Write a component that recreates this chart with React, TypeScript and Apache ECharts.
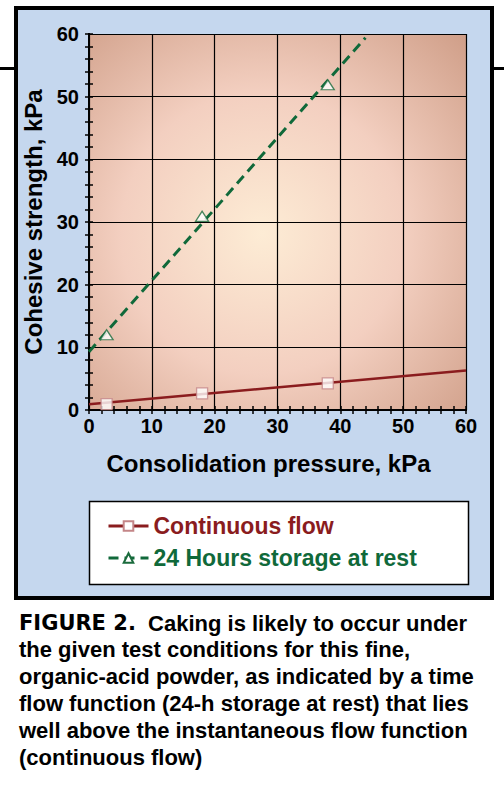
import React, { useEffect, useRef } from 'react'
import * as echarts from 'echarts'

const seriesNames = ['Continuous flow', '24 Hours storage at rest']
const seriesColors = ['#8a1c1e', '#10693a']
const markerBorders = ['#c48688', '#1a6b3c']

// measured test points
const pointX = [2.8, 18.0, 38.0]
const continuousPoints = [0.95, 2.65, 4.25]
const storagePoints = [12.0, 30.9, 51.9]

// fitted flow functions
const continuousFitX = [0, 60]
const continuousFit = [0.9, 6.3]
const storageFitX = [0, 44]
const storageFit = [9.3, 59.4]

const xAxisName = 'Consolidation pressure, kPa'
const yAxisName = 'Cohesive strength, kPa'
const axisMin = 0
const axisMax = 60
const axisStep = 10
const minorStep = 2

const captionHead = 'FIGURE 2.'
const captionLines = [
  'Caking is likely to occur under',
  'the given test conditions for this fine,',
  'organic-acid powder, as indicated by a time',
  'flow function (24-h storage at rest) that lies',
  'well above the instantaneous flow function',
  '(continuous flow)'
]

const font = '"Liberation Sans", Arial, sans-serif'

const zip = (xs: number[], ys: number[]) => xs.map((x, i) => [x, ys[i]])

const App: React.FC = () => {
  const chartRef = useRef<HTMLDivElement>(null)

  useEffect(() => {
    if (!chartRef.current) return
    const chart = echarts.init(chartRef.current, undefined, { renderer: 'svg' })

    // labelled axis with grid lines
    const mainAxis = (position: string, isX: boolean) => ({
      type: 'value',
      position,
      min: axisMin,
      max: axisMax,
      interval: axisStep,
      name: isX ? xAxisName : yAxisName,
      nameLocation: 'middle',
      nameGap: isX ? 41 : 42,
      nameTextStyle: {
        fontSize: 24,
        fontWeight: 'bold',
        fontFamily: font,
        color: '#000',
        padding: isX ? [0, 18, 0, 0] : [0, 0, 0, 0]
      },
      axisLine: { show: true, lineStyle: { color: '#000', width: 2 } },
      axisTick: { show: false },
      axisLabel: {
        fontSize: 20,
        fontWeight: 'bold',
        fontFamily: font,
        color: '#000',
        margin: isX ? 6 : 10
      },
      splitLine: { show: true, lineStyle: { color: '#000', width: 1.2 } }
    })

    // frame side carrying the small inward ticks
    const tickAxis = (position: string) => ({
      type: 'value',
      position,
      min: axisMin,
      max: axisMax,
      interval: minorStep,
      axisLine: { show: true, lineStyle: { color: '#000', width: 2 } },
      axisTick: { show: true, inside: true, length: 4, lineStyle: { color: '#000', width: 1.5 } },
      axisLabel: { show: false },
      splitLine: { show: false }
    })

    const triangleStyle = { color: '#fff', borderColor: markerBorders[1], borderWidth: 1.3 }
    const squareStyle = { color: '#fff', borderColor: markerBorders[0], borderWidth: 1.3 }

    const option = {
      animation: false,
      backgroundColor: '#fff',
      grid: {
        left: 89,
        top: 34,
        width: 377,
        height: 376,
        show: true,
        borderWidth: 0,
        backgroundColor: new echarts.graphic.RadialGradient(0.46, 0.53, 0.75, [
          { offset: 0, color: '#fdecd5' },
          { offset: 0.5, color: '#f3cfc0' },
          { offset: 1, color: '#d09f89' }
        ])
      },
      xAxis: [mainAxis('bottom', true), tickAxis('bottom'), tickAxis('top')],
      yAxis: [mainAxis('left', false), tickAxis('left'), tickAxis('right')],
      legend: {
        orient: 'vertical',
        left: 102,
        top: 509,
        itemWidth: 40,
        itemHeight: 12,
        itemGap: 8,
        selectedMode: false,
        lineStyle: { width: 3 },
        textStyle: {
          fontSize: 23,
          fontWeight: 'bold',
          fontFamily: font,
          lineHeight: 24
        },
        data: seriesNames.map((name, i) => ({ name, textStyle: { color: seriesColors[i] } }))
      },
      series: [
        {
          name: seriesNames[0],
          type: 'line',
          data: zip(continuousFitX, continuousFit),
          symbol: 'rect',
          showSymbol: false,
          lineStyle: { color: seriesColors[0], width: 2.5 },
          itemStyle: squareStyle,
          z: 3
        },
        {
          name: seriesNames[1],
          type: 'line',
          data: zip(storageFitX, storageFit),
          symbol: 'triangle',
          showSymbol: false,
          lineStyle: { color: seriesColors[1], width: 3, type: [10, 6] },
          itemStyle: triangleStyle,
          z: 3
        },
        {
          name: seriesNames[0],
          type: 'scatter',
          data: zip(pointX, continuousPoints),
          symbol: 'rect',
          symbolSize: 11,
          itemStyle: squareStyle,
          z: 4
        },
        {
          name: seriesNames[1],
          type: 'scatter',
          data: zip(pointX, storagePoints),
          symbol: 'triangle',
          symbolSize: [13, 10],
          itemStyle: triangleStyle,
          z: 4
        }
      ],
      graphic: [
        // page rule behind the figure panel
        { type: 'rect', z: -20, shape: { x: 0, y: 67, width: 504, height: 3 }, style: { fill: '#000' } },
        {
          type: 'rect',
          z: -10,
          shape: { x: 16, y: 8, width: 476, height: 590 },
          style: { fill: '#c5d7ee', stroke: '#000', lineWidth: 4 }
        },
        {
          type: 'rect',
          z: -5,
          shape: { x: 89.5, y: 501.5, width: 379, height: 83 },
          style: { fill: '#fff', stroke: '#000', lineWidth: 1.5 }
        },
        ...captionLines.map((line, i) => ({
          type: 'text',
          x: 19,
          y: 623 + i * 26.8,
          style: {
            text: i === 0 ? `{head|${captionHead}}  ${line}` : line,
            fill: '#000',
            fontSize: 22,
            fontWeight: 'bold',
            fontFamily: font,
            verticalAlign: 'middle',
            rich: {
              head: {
                fontSize: 21,
                fontWeight: 'bold',
                fontFamily: '"DejaVu Sans", sans-serif',
                fill: '#000'
              }
            }
          }
        }))
      ]
    }

    chart.setOption(option as any)
    return () => {
      chart.dispose()
    }
  }, [])

  return (
    <div
      ref={chartRef}
      style={{ position: 'absolute', left: 0, top: 0, width: '504px', height: '787px' }}
    />
  )
}

export default App
